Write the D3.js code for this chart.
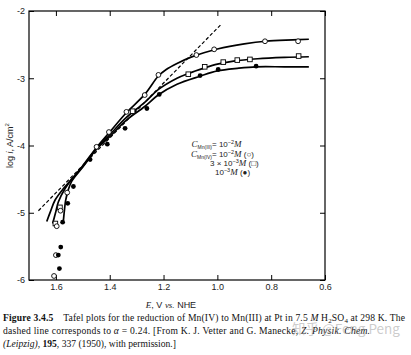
<!DOCTYPE html>
<html><head><meta charset="utf-8">
<script src="https://cdn.jsdelivr.net/npm/d3@7"></script>
<style>body{margin:0;background:#fff}svg{display:block}</style>
</head><body>
<script>
// ---- data (E in V vs NHE, log i in A/cm2) ----
const xTicks = [1.6, 1.4, 1.2, 1.0, 0.8, 0.6];
const yTicks = [-2, -3, -4, -5, -6];

// fitted curves
const curveOpenE = [1.634,1.620,1.603,1.572,1.541,1.50,1.449,1.40,1.34,1.27,1.22,1.19,1.15,1.10,1.05,1.00,0.90,0.82,0.72,0.66];
const curveOpenL = [-5.13,-4.98,-4.81,-4.64,-4.50,-4.30,-4.03,-3.80,-3.52,-3.24,-2.97,-2.87,-2.78,-2.69,-2.62,-2.565,-2.49,-2.45,-2.43,-2.42];
const curveSqE = [1.612,1.600,1.591,1.566,1.541,1.50,1.45,1.40,1.34,1.27,1.22,1.15,1.108,1.05,1.00,0.94,0.85,0.75,0.66];
const curveSqL = [-5.16,-4.98,-4.84,-4.64,-4.50,-4.31,-4.05,-3.84,-3.59,-3.36,-3.17,-3.00,-2.93,-2.85,-2.79,-2.745,-2.71,-2.69,-2.68];
const curveFillE = [1.572,1.568,1.564,1.554,1.541,1.50,1.45,1.40,1.34,1.27,1.22,1.15,1.065,1.00,0.92,0.856,0.75,0.66];
const curveFillL = [-5.11,-4.95,-4.82,-4.66,-4.53,-4.32,-4.06,-3.87,-3.63,-3.42,-3.25,-3.09,-2.97,-2.89,-2.85,-2.83,-2.83,-2.83];

// dashed Tafel line (alpha = 0.24)
const dashE = [1.665, 0.984];
const dashL = [-4.97, -2.19];

// measured points
const openE = [1.607,1.600,1.597,1.583,1.558,1.449,1.403,1.338,1.270,1.219,1.078,1.012,0.823,0.700];
const openL = [-5.94,-5.63,-5.20,-4.97,-4.70,-4.02,-3.80,-3.50,-3.25,-2.95,-2.655,-2.57,-2.45,-2.45];
const squareE = [1.602,1.585,1.315,1.108,1.047,0.978,0.926,0.879,0.698];
const squareL = [-5.16,-4.92,-3.49,-2.94,-2.83,-2.76,-2.73,-2.72,-2.67];
const filledE = [1.587,1.591,1.582,1.575,1.556,1.535,1.473,1.409,1.343,1.262,1.216,1.064,0.997,0.856];
const filledL = [-5.83,-5.63,-5.51,-5.14,-4.86,-4.61,-4.21,-3.98,-3.745,-3.45,-3.24,-2.96,-2.87,-2.82];

// ---- drawing ----
const W = 411, H = 355;
const svg = d3.select("body").append("svg").attr("width", W).attr("height", H);
const x = d3.scaleLinear().domain([1.7, 0.6]).range([29, 325]);
const y = d3.scaleLinear().domain([-6, -2]).range([280, 11]);
const sans = "'Liberation Sans', Arial, sans-serif";
const serif = "'Liberation Serif', 'Times New Roman', serif";

// frame
svg.append("rect").attr("x", x(1.7)).attr("y", y(-2))
  .attr("width", x(0.6) - x(1.7)).attr("height", y(-6) - y(-2))
  .attr("fill", "none").attr("stroke", "#000").attr("stroke-width", 1.2);

function styleAxis(g) {
  g.select(".domain").remove();
  g.selectAll("line").attr("stroke", "#000").attr("stroke-width", 1);
  g.selectAll("text").attr("font-family", sans).attr("font-size", 9).attr("fill", "#222");
}
svg.append("g").attr("transform", `translate(0,${y(-6)})`)
  .call(d3.axisBottom(x).tickValues(xTicks).tickSize(-5).tickPadding(4).tickFormat(d3.format(".1f")))
  .call(styleAxis);
svg.append("g").attr("transform", `translate(0,${y(-2)})`)
  .call(d3.axisTop(x).tickValues(xTicks).tickSize(-5).tickFormat(""))
  .call(styleAxis);
svg.append("g").attr("transform", `translate(${x(1.7)},0)`)
  .call(d3.axisLeft(y).tickValues(yTicks).tickSize(-5).tickPadding(4).tickFormat(d => String(d)))
  .call(styleAxis);
svg.append("g").attr("transform", `translate(${x(0.6)},0)`)
  .call(d3.axisRight(y).tickValues(yTicks).tickSize(-5).tickFormat(""))
  .call(styleAxis);

// axis titles
const yl = svg.append("text").attr("transform", `translate(13,${y(-4)}) rotate(-90)`)
  .attr("text-anchor", "middle").attr("font-family", sans).attr("font-size", 9).attr("fill", "#222");
yl.append("tspan").text("log ");
yl.append("tspan").attr("font-style", "italic").text("i");
yl.append("tspan").text(", A/cm");
yl.append("tspan").attr("font-size", 6).attr("dy", -4).text("2");

const xl = svg.append("text").attr("x", 171).attr("y", 308).attr("text-anchor", "middle")
  .attr("font-family", sans).attr("font-size", 9).attr("fill", "#222");
xl.append("tspan").attr("font-family", serif).attr("font-style", "italic").text("E");
xl.append("tspan").text(", V ");
xl.append("tspan").attr("font-family", serif).attr("font-style", "italic").text("vs.");
xl.append("tspan").text(" NHE");

// dashed line
svg.append("path")
  .attr("d", d3.line().x(d => x(d[0])).y(d => y(d[1]))(d3.zip(dashE, dashL)))
  .attr("fill", "none").attr("stroke", "#000").attr("stroke-width", 1.2).attr("stroke-dasharray", "3.5,2.2");

// curves
const line = d3.line().x(d => x(d[0])).y(d => y(d[1])).curve(d3.curveCatmullRom.alpha(0.5));
[[curveOpenE, curveOpenL], [curveSqE, curveSqL], [curveFillE, curveFillL]].forEach(([e, l]) => {
  svg.append("path").attr("d", line(d3.zip(e, l)))
    .attr("fill", "none").attr("stroke", "#000").attr("stroke-width", 1.7);
});

// markers
svg.append("g").selectAll("rect").data(d3.zip(squareE, squareL)).join("rect")
  .attr("x", d => x(d[0]) - 2.3).attr("y", d => y(d[1]) - 2.3).attr("width", 4.6).attr("height", 4.6)
  .attr("fill", "#fff").attr("stroke", "#000").attr("stroke-width", 0.9);
svg.append("g").selectAll("circle").data(d3.zip(openE, openL)).join("circle")
  .attr("cx", d => x(d[0])).attr("cy", d => y(d[1])).attr("r", 2.4)
  .attr("fill", "#fff").attr("stroke", "#000").attr("stroke-width", 0.9);
svg.append("g").selectAll("circle").data(d3.zip(filledE, filledL)).join("circle")
  .attr("cx", d => x(d[0])).attr("cy", d => y(d[1])).attr("r", 2.4)
  .attr("fill", "#000");

// legend
const lg = svg.append("g").attr("font-family", sans).attr("font-size", 8).attr("fill", "#222");
function legLine(xx, yy, parts, anchor) {
  const t = lg.append("text").attr("x", xx).attr("y", yy).attr("text-anchor", anchor || "start");
  parts.forEach(p => {
    const s = t.append("tspan").text(p.t);
    if (p.i) s.attr("font-family", serif).attr("font-style", "italic").attr("font-size", 9);
    if (p.sub) s.attr("font-size", 5).attr("dy", 2);
    if (p.up) s.attr("font-size", 5.5).attr("dy", -3.5);
    if (p.down) s.attr("dy", p.down);
  });
}
legLine(212, 147, [{t:"C", i:1}, {t:"Mn(III)", sub:1}], "end");
legLine(212, 147, [{t:"= 10"}, {t:"−2", up:1}, {t:"M", i:1, down:3.5}]);
legLine(212, 157, [{t:"C", i:1}, {t:"Mn(IV)", sub:1}], "end");
legLine(212, 157, [{t:"= 10"}, {t:"−2", up:1}, {t:"M", i:1, down:3.5}, {t:" (○)"}]);
legLine(210, 166, [{t:"3 × 10"}, {t:"−3", up:1}, {t:"M", i:1, down:3.5}, {t:" (□)"}]);
legLine(215, 175, [{t:"10"}, {t:"−3", up:1}, {t:"M", i:1, down:3.5}, {t:" (●)"}]);

// caption
const cap = svg.append("g").attr("font-family", serif).attr("font-size", 9.6).attr("fill", "#111");
function capLine(yy, parts, len) {
  const t = cap.append("text").attr("x", 3).attr("y", yy);
  if (len) t.attr("textLength", len).attr("lengthAdjust", "spacing");
  parts.forEach(p => {
    const s = t.append("tspan").text(p.t);
    if (p.b) s.attr("font-weight", "bold");
    if (p.i) s.attr("font-style", "italic");
    if (p.sub) s.attr("font-size", 7).attr("dy", 2);
    if (p.dy) s.attr("dy", p.dy);
  });
}
capLine(321, [{t:"Figure 3.4.5", b:1}, {t:"\u2003Tafel plots for the reduction of Mn(IV) to Mn(III) at Pt in 7.5 "}, {t:"M", i:1}, {t:" H"}, {t:"2", sub:1}, {t:"SO", dy:-2}, {t:"4", sub:1}, {t:" at 298 K. The", dy:-2}], 402);
capLine(334, [{t:"dashed line corresponds to "}, {t:"α", i:1}, {t:" = 0.24. [From K. J. Vetter and G. Manecke, "}, {t:"Z. Physik. Chem.", i:1}], 367);
capLine(347, [{t:"(Leipzig)", i:1}, {t:", "}, {t:"195", b:1}, {t:", 337 (1950), with permission.]"}]);

// watermark
svg.append("text").attr("x", 292).attr("y", 334).attr("font-family", "'Noto Sans CJK SC', sans-serif")
  .attr("font-size", 13.5).attr("fill", "#999").attr("fill-opacity", 0.5).text("知乎 @Feng Peng");
</script>
</body></html>
